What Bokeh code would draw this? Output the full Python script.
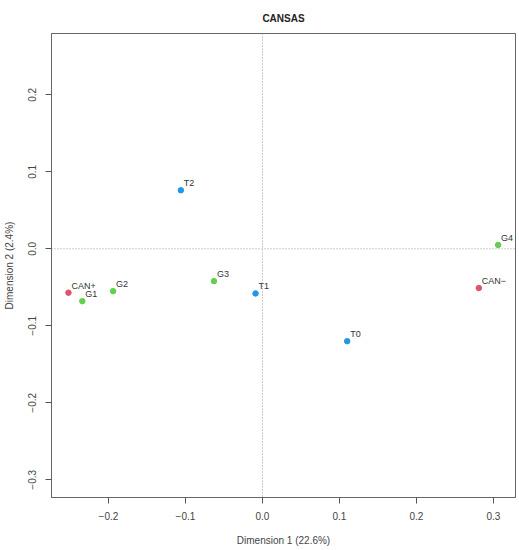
from bokeh.plotting import figure
from bokeh.models import ColumnDataSource, FixedTicker, Span, Range1d
from bokeh.embed import file_html
from bokeh.resources import INLINE
from bokeh.core.properties import value

# Data
labels = ["CAN+", "CAN\u2212", "G1", "G2", "G3", "G4", "T0", "T1", "T2"]
dim1 = [-0.252, 0.281, -0.234, -0.194, -0.063, 0.306, 0.110, -0.009, -0.106]
dim2 = [-0.057, -0.051, -0.068, -0.055, -0.042, 0.005, -0.120, -0.058, 0.076]
groups = ["CAN", "CAN", "G", "G", "G", "G", "T", "T", "T"]
group_colors = {"CAN": "#DF536B", "G": "#61D04F", "T": "#2297E6"}
x_ticks = [-0.2, -0.1, 0.0, 0.1, 0.2, 0.3]
y_ticks = [-0.3, -0.2, -0.1, 0.0, 0.1, 0.2]

colors = [group_colors[g] for g in groups]
src = ColumnDataSource(dict(x=dim1, y=dim2, label=labels, color=colors))

FONT = "Liberation Sans"

p = figure(width=519, height=550, output_backend="svg", toolbar_location=None,
           x_range=Range1d(-0.274, 0.3286), y_range=Range1d(-0.323, 0.2796),
           min_border_left=51, min_border_right=4, min_border_top=33, min_border_bottom=53)
p.grid.visible = False
p.outline_line_color = "#666666"
p.outline_line_width = 1
p.background_fill_color = "white"
p.border_fill_color = "white"

p.title.text = "CANSAS"
p.title.align = "center"
p.title.text_font = FONT
p.title.text_font_size = "10px"
p.title.text_font_style = "bold"
p.title.text_color = "#222222"
p.title.offset = 0
p.title.standoff = 20

def fmt(v):
    s = "%.1f" % v
    return s.replace("-", "\u2212")

for ax, ticks, lab in ((p.xaxis[0], x_ticks, "Dimension 1 (22.6%)"),
                       (p.yaxis[0], y_ticks, "Dimension 2 (2.4%)")):
    ax.ticker = FixedTicker(ticks=ticks)
    ax.major_label_overrides = {t: fmt(t) for t in ticks}
    ax.minor_tick_line_color = None
    ax.major_tick_out = 6
    ax.major_tick_in = 0
    ax.major_tick_line_color = "#555555"
    ax.axis_line_color = "#666666"
    ax.major_label_text_font = FONT
    ax.major_label_text_font_size = "10px"
    ax.major_label_text_color = "#444444"
    ax.axis_label = lab
    ax.axis_label_text_font = FONT
    ax.axis_label_text_font_size = "10px"
    ax.axis_label_text_font_style = "normal"
    ax.axis_label_text_color = "#444444"

p.xaxis[0].major_label_standoff = 8
p.xaxis[0].axis_label_standoff = 12
p.yaxis[0].major_label_orientation = "vertical"
p.yaxis[0].major_label_standoff = 9
p.yaxis[0].axis_label_standoff = 11

p.add_layout(Span(location=0, dimension="height", line_color="#999999",
                  line_dash="1 2", line_width=1))
p.add_layout(Span(location=0, dimension="width", line_color="#999999",
                  line_dash="1 2", line_width=1))

p.scatter("x", "y", source=src, size=5.5, fill_color="color", line_color="color")
p.text("x", "y", text="label", source=src, x_offset=3, y_offset=-2,
       text_baseline="bottom", text_align="left", text_font=value(FONT),
       text_font_size="9px", text_color="#333333")

open("out.html", "w").write(file_html(p, INLINE))
